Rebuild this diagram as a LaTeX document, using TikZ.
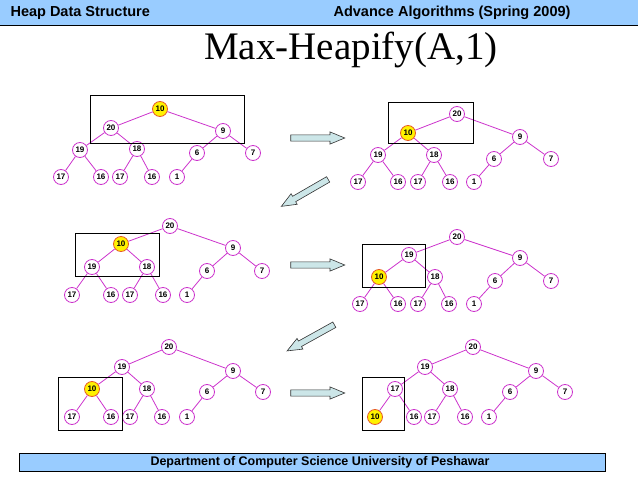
\documentclass[tikz,border=0pt]{standalone}
\usepackage{fontspec}
\setmainfont{Liberation Serif}
\setsansfont{Liberation Sans}
\usetikzlibrary{shapes.arrows}
\definecolor{heappink}{RGB}{204,51,204}
\definecolor{hotring}{RGB}{230,90,40}
\definecolor{barblue}{RGB}{153,204,255}
\definecolor{arrowcyan}{RGB}{204,230,232}
\tikzset{
  heapnode/.style={circle, draw=heappink, fill=white, line width=0.8pt, minimum size=15pt, inner sep=0pt, font=\sffamily\bfseries\fontsize{8}{9}\selectfont},
  hotnode/.style={heapnode, draw=hotring, fill=yellow},
  heapedge/.style={draw=heappink, line width=0.8pt},
  selbox/.style={draw=black, line width=0.8pt},
  blockarrow/.style={single arrow, draw=black!80, fill=arrowcyan, line width=0.6pt, minimum height=54pt, inner sep=2.8pt, single arrow head extend=3pt, single arrow tip angle=45},
  barfont/.style={font=\sffamily\bfseries\fontsize{14.5}{17}\selectfont},
}
% same parent/child links in every tree
\newcommand{\heapedges}[1]{\foreach \u/\w in {a/b,a/c,b/d,b/e,c/f,c/g,d/h,d/i,e/j,e/k,f/l}
  \draw[heapedge] (#1\u) -- (#1\w);}
\newcommand{\heaptree}[2]{\foreach \n/\x/\y/\v/\s in {#2}
  \node[\s] (#1\n) at (\x,\y) {\v};
  \heapedges{#1}}

\begin{document}
\begin{tikzpicture}[x=1pt, y=-1pt]
  \useasboundingbox (0,0) rectangle (638,479);
  % header and footer bars
  \fill[barblue] (0,0) rectangle (638,25);
  \draw[line width=0.8pt] (0,25) -- (638,25);
  \node[barfont, anchor=west] (hleft) at (7,13) {Heap Data Structure};
  \node[barfont, anchor=east] (hright) at (574,13) {Advance Algorithms (Spring 2009)};
  \node[font=\fontsize{39}{44}\selectfont] (title) at (351,50) {Max-Heapify(A,1)};
  \draw[fill=barblue, line width=0.6pt] (19,453) rectangle (605,471);
  \node[font=\sffamily\bfseries\fontsize{12.5}{14}\selectfont] (foot) at (320,462) {Department of Computer Science University of Peshawar};

  % step 1
  \heaptree{A}{a/160/109/10/hotnode, b/111/128/20/heapnode, c/223/131/9/heapnode,
    d/80/150/19/heapnode, e/137/149/18/heapnode, f/197/153/6/heapnode, g/253/153/7/heapnode,
    h/61/177/17/heapnode, i/101/177/16/heapnode, j/120/177/17/heapnode, k/152/177/16/heapnode, l/177/177/1/heapnode}
  \draw[selbox] (90,95) rectangle (244,143);
  % step 2
  \heaptree{B}{a/457/114/20/heapnode, b/408/133/10/hotnode, c/520/137/9/heapnode,
    d/378/155/19/heapnode, e/434/155/18/heapnode, f/494/159/6/heapnode, g/551/159/7/heapnode,
    h/358/182/17/heapnode, i/398/182/16/heapnode, j/418/182/17/heapnode, k/450/182/16/heapnode, l/474/182/1/heapnode}
  \draw[selbox] (388,102) rectangle (473,143);
  % step 3
  \heaptree{C}{a/170/226/20/heapnode, b/121/244/10/hotnode, c/233/248/9/heapnode,
    d/92/267/19/heapnode, e/147/267/18/heapnode, f/207/271/6/heapnode, g/262/271/7/heapnode,
    h/72/295/17/heapnode, i/111/295/16/heapnode, j/130/295/17/heapnode, k/163/295/16/heapnode, l/187/295/1/heapnode}
  \draw[selbox] (75,233) rectangle (159,276);
  % step 4
  \heaptree{D}{a/457/237/20/heapnode, b/409/255/19/heapnode, c/520/258/9/heapnode,
    d/379/277/10/hotnode, e/435/277/18/heapnode, f/495/281/6/heapnode, g/551/281/7/heapnode,
    h/360/304/17/heapnode, i/398/304/16/heapnode, j/418/304/17/heapnode, k/449/304/16/heapnode, l/474/304/1/heapnode}
  \draw[selbox] (362,244) rectangle (425,287);
  % step 5
  \heaptree{E}{a/169/347/20/heapnode, b/122/367/19/heapnode, c/233/371/9/heapnode,
    d/92/389/10/hotnode, e/147/389/18/heapnode, f/207/392/6/heapnode, g/263/392/7/heapnode,
    h/72/417/17/heapnode, i/111/417/16/heapnode, j/130/417/17/heapnode, k/162/417/16/heapnode, l/187/417/1/heapnode}
  \draw[selbox] (58,377) rectangle (122,430);
  % step 6
  \heaptree{F}{a/473/347/20/heapnode, b/425/367/19/heapnode, c/536/371/9/heapnode,
    d/395/389/17/heapnode, e/450/389/18/heapnode, f/510/392/6/heapnode, g/565/392/7/heapnode,
    h/375/417/10/hotnode, i/414/417/16/heapnode, j/432/417/17/heapnode, k/465/417/16/heapnode, l/489/417/1/heapnode}
  \draw[selbox] (362,377) rectangle (404,430);

  % block arrows between steps
  \node[blockarrow] (go1) at (314,138) {};
  \node[blockarrow, rotate=210] (go2) at (308,191) {};
  \node[blockarrow] (go3) at (314,265) {};
  \node[blockarrow, rotate=209] (go4) at (314,336) {};
  \node[blockarrow] (go5) at (314,393) {};
\end{tikzpicture}
\end{document}
